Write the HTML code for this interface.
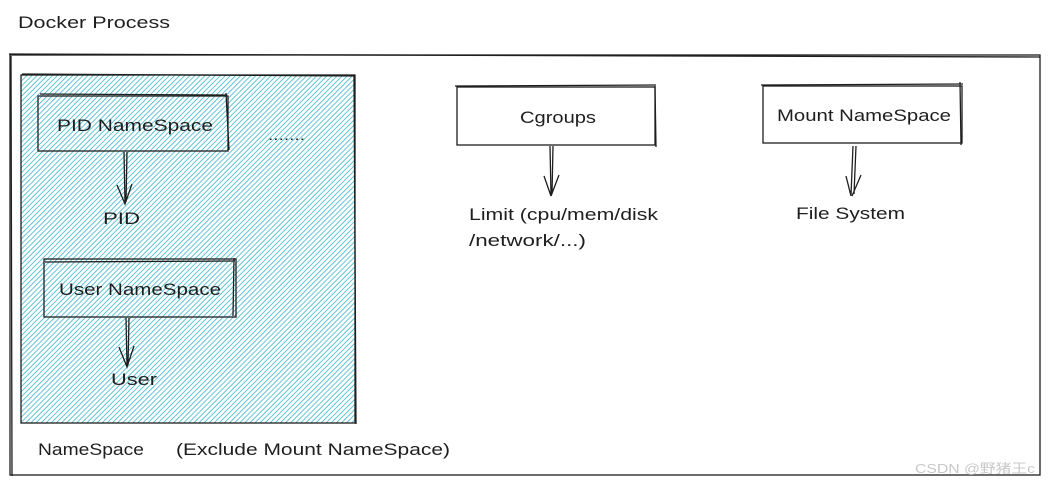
<!DOCTYPE html>
<html><head><meta charset="utf-8"><style>
html,body{margin:0;padding:0;background:#fff;width:1048px;height:485px;overflow:hidden}
text{font-family:"Liberation Sans","Noto Sans CJK SC",sans-serif;fill:#1e1e1e}
</style></head><body>
<svg width="1048" height="485" viewBox="0 0 1048 485" xmlns="http://www.w3.org/2000/svg">
<defs>
<pattern id="h" patternUnits="userSpaceOnUse" width="3.6" height="3.6" patternTransform="rotate(45)">
<line x1="0" y1="0" x2="0" y2="3.6" stroke="#48bccd" stroke-width="1.7"/>
</pattern>
</defs>
<text x="18" y="28" font-size="17" textLength="152" lengthAdjust="spacingAndGlyphs">Docker Process</text>
<g fill="none" stroke="#1e1e1e" stroke-width="1.3">
<rect x="10" y="55" width="1030" height="420"/>
<path d="M9 54 L1040 57 M11 56 L12 476" />
</g>
<rect x="21" y="75" width="334" height="348" fill="url(#h)"/>
<g fill="none" stroke="#1e1e1e" stroke-width="1.3">
<rect x="21" y="75" width="334" height="348"/>
<path d="M22 74 L355 76 M354 75 L356 424"/>
<rect x="38" y="96" width="190" height="55"/>
<path d="M40 94 L227 95 M226 93 L229 150"/>
<rect x="44" y="259" width="192" height="58"/>
<path d="M45 262 L235 261 M234 258 L233 316"/>
<rect x="457" y="87" width="198" height="58"/>
<path d="M455 86 L656 85 M655 86 L656 147"/>
<rect x="763" y="86" width="199" height="57"/>
<path d="M761 85 L963 84 M960 82 L961 145"/>
<path d="M124 152 L125 203 M127 152 L126 202 M117 185 L125 204 L132 184"/>
<path d="M126 318 L127 366 M129 318 L128 365 M119 347 L127 367 L134 346"/>
<path d="M550 146 L551 195 M553 146 L552 194 M544 176 L551 196 M559 175 L551 196"/>
<path d="M853 146 L851 195 M856 146 L854 194 M846 176 L851 196 M861 175 L852 196"/>
</g>
<text x="57" y="131" font-size="17" textLength="156" lengthAdjust="spacingAndGlyphs">PID NameSpace</text>
<text x="268" y="140" font-size="14" textLength="37" lengthAdjust="spacingAndGlyphs">.......</text>
<text x="103" y="224" font-size="17" textLength="37" lengthAdjust="spacingAndGlyphs">PID</text>
<text x="59" y="295" font-size="17" textLength="162" lengthAdjust="spacingAndGlyphs">User NameSpace</text>
<text x="111" y="385" font-size="17" textLength="46" lengthAdjust="spacingAndGlyphs">User</text>
<text x="38" y="455" font-size="17" textLength="106" lengthAdjust="spacingAndGlyphs">NameSpace</text>
<text x="176" y="455" font-size="17" textLength="274" lengthAdjust="spacingAndGlyphs">(Exclude Mount NameSpace)</text>
<text x="520" y="123" font-size="17" textLength="76" lengthAdjust="spacingAndGlyphs">Cgroups</text>
<text x="777" y="121" font-size="17" textLength="174" lengthAdjust="spacingAndGlyphs">Mount NameSpace</text>
<text x="469" y="220" font-size="17" textLength="189" lengthAdjust="spacingAndGlyphs">Limit (cpu/mem/disk</text>
<text x="469" y="246" font-size="17" textLength="117" lengthAdjust="spacingAndGlyphs">/network/...)</text>
<text x="796" y="219" font-size="17" textLength="109" lengthAdjust="spacingAndGlyphs">File System</text>
<text x="915" y="473" font-size="13" textLength="120" lengthAdjust="spacingAndGlyphs" style="fill:#c8c8c8">CSDN @野猪王c</text>
</svg>
</body></html>
